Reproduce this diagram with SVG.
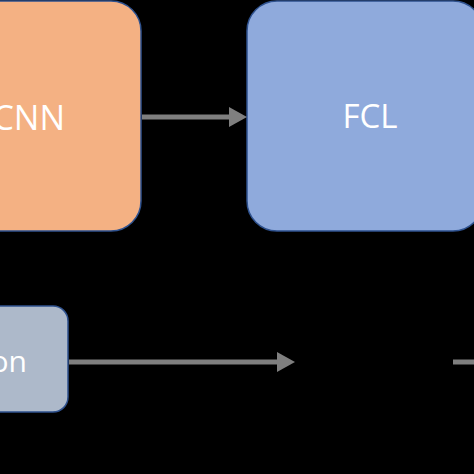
<svg xmlns="http://www.w3.org/2000/svg" width="474" height="474" viewBox="0 0 474 474">
<style>
.box{stroke:#2F528F;stroke-width:1.5}
.lbl{font-family:"Open Sans","Noto Sans",sans-serif;fill:#FFFFFF}
.conn{stroke:#7F7F7F;stroke-width:5;fill:none}
</style>
<defs>
<marker id="ah" markerUnits="userSpaceOnUse" viewBox="0 0 18 20" markerWidth="18" markerHeight="20" refX="1" refY="10" orient="auto">
<path d="M0,0 L18,10 L0,20 Z" fill="#7F7F7F"/>
</marker>
</defs>
<rect x="0" y="0" width="474" height="474" fill="#000000"/>
<g id="cnn">
<rect class="box" x="-100" y="1" width="241" height="230" rx="30" ry="30" fill="#F4B183"/>
<text class="lbl" x="65" y="130" font-size="34" text-anchor="end">CNN</text>
</g>
<g id="fcl">
<rect class="box" x="247" y="1" width="236" height="230" rx="30" ry="30" fill="#8FAADC"/>
<text class="lbl" x="370" y="128" font-size="33" text-anchor="middle">FCL</text>
</g>
<g id="input">
<rect class="box" x="-100" y="306" width="168" height="106" rx="15" ry="15" fill="#ADB9CA"/>
<text class="lbl" x="27" y="372" font-size="30" text-anchor="end">on</text>
</g>
<g id="connectors">
<line class="conn" x1="142" y1="117" x2="230" y2="117" marker-end="url(#ah)"/>
<line class="conn" x1="69" y1="362" x2="278" y2="362" marker-end="url(#ah)"/>
<line class="conn" x1="453" y1="362" x2="476" y2="362"/>
</g>
</svg>
